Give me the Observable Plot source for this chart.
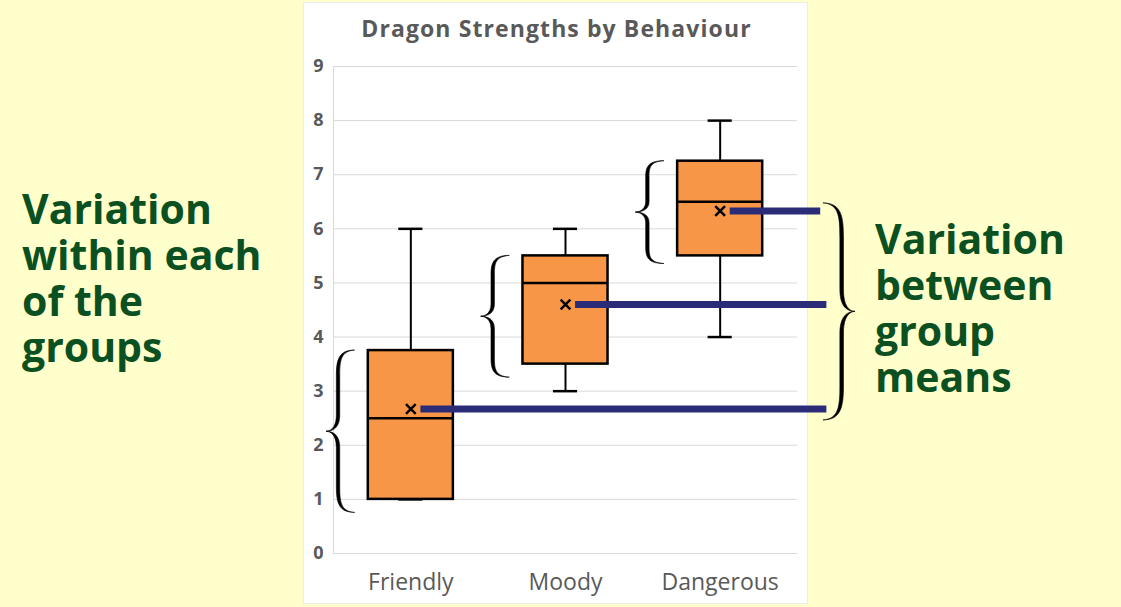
<!DOCTYPE html>
<html><head><meta charset="utf-8">
<script src="https://cdn.jsdelivr.net/npm/d3@7"></script>
<script src="https://cdn.jsdelivr.net/npm/@observablehq/plot@0.6"></script>
<style>
html,body{margin:0;padding:0;background:#FFFFCC;}
#wrap{position:relative;width:1121px;height:607px;overflow:hidden;background:#FFFFCC;font-family:"Open Sans",sans-serif;}
#panel{position:absolute;left:303px;top:2px;width:503px;height:600px;background:#fff;border:1px solid #ececec;}
#title{position:absolute;left:303px;top:13px;width:507px;text-align:center;font-weight:700;font-size:23px;letter-spacing:1.1px;line-height:30px;color:#595959;}
#chart{position:absolute;left:0;top:50px;}
.note{position:absolute;color:#0b5020;font-weight:700;font-size:41px;line-height:46px;white-space:nowrap;}
</style></head>
<body>
<div id="wrap">
  <div id="panel"></div>
  <div id="title">Dragon Strengths by Behaviour</div>
  <div id="chart"></div>
  <div class="note" style="left:22px;top:185px;">Variation<br>within each<br>of the<br>groups</div>
  <div class="note" style="left:875px;top:215px;">Variation<br>between<br>group<br>means</div>
</div>
<script>
const groups = ["Friendly", "Moody", "Dangerous"];
const mins = [1, 3, 4];
const q1s = [1, 3.5, 5.5];
const medians = [2.5, 5, 6.5];
const q3s = [3.75, 5.5, 7.25];
const maxs = [6, 6, 8];
const means = [2.67, 4.6, 6.33];
const yTicks = [0, 1, 2, 3, 4, 5, 6, 7, 8, 9];
const braceTops = [3.75, 5.5, 7.25];
const braceBottoms = [0.75, 3.25, 5.35];
const meansBraceRange = [2.46, 6.47];

// layout (positions in x data units)
const boxHalf = 0.275, capHalf = 0.078;
const lineEnd = [2.69, 2.69, 2.65];

const rows = groups.map((g, i) => ({
  i, g, min: mins[i], q1: q1s[i], med: medians[i], q3: q3s[i], max: maxs[i], mean: means[i]
}));

function bracePath(xt, xe, y1, y2, t) {
  const dir = Math.sign(xe - xt);
  const xs = xt + (xe - xt) * 0.36;
  const xi = xs + dir * t;
  const h = y2 - y1, ym = (y1 + y2) / 2, k = 0.16 * h, m = 0.1 * h;
  return `M${xe},${y1}C${xs + dir * 2},${y1} ${xs},${y1 + k * 0.4} ${xs},${y1 + k}L${xs},${ym - m}C${xs},${ym - 2} ${xt + dir * 3},${ym} ${xt},${ym}C${xt + dir * 3},${ym} ${xs},${ym + 2} ${xs},${ym + m}L${xs},${y2 - k}C${xs},${y2 - k * 0.4} ${xs + dir * 2},${y2} ${xe},${y2}` +
    `C${xi + dir * 1},${y2 - 1} ${xi},${y2 - k * 0.4} ${xi},${y2 - k}L${xi},${ym + m}C${xi},${ym + 1} ${xt + dir * 4},${ym} ${xt},${ym}C${xt + dir * 4},${ym} ${xi},${ym - 1} ${xi},${ym - m}L${xi},${y1 + k}C${xi},${y1 + k * 0.4} ${xi + dir * 1},${y1 + 1} ${xe},${y1}Z`;
}

const braces = (index, scales) => {
  const g = d3.create("svg:g");
  braceTops.forEach((top, i) => {
    g.append("path")
      .attr("d", bracePath(scales.x(i - 0.545), scales.x(i - 0.36), scales.y(top), scales.y(braceBottoms[i]), 3.4))
      .attr("fill", "black").attr("stroke", "black").attr("stroke-width", 0.6);
  });
  g.append("path")
    .attr("d", bracePath(scales.x(2.875), scales.x(2.668), scales.y(meansBraceRange[1]), scales.y(meansBraceRange[0]), 3.6))
    .attr("fill", "black").attr("stroke", "black").attr("stroke-width", 0.6);
  return g.node();
};

const plot = Plot.plot({
  width: 1121, height: 557,
  marginLeft: 333, marginRight: 324, marginTop: 16, marginBottom: 54,
  x: {domain: [-0.5, 2.5], axis: null},
  y: {domain: [0, 9], axis: null},
  style: {background: "transparent", fontFamily: "'Open Sans', sans-serif", overflow: "visible"},
  marks: [
    Plot.gridY(yTicks, {stroke: "#d9d9d9", strokeOpacity: 1}),
    Plot.ruleX([-0.5], {y1: 0, y2: 9, stroke: "#d9d9d9", strokeOpacity: 1}),
    Plot.axisY(yTicks, {tickSize: 0, tickPadding: 10, tickFormat: "d", fontSize: 18, fontWeight: "bold", color: "#595959"}),
    Plot.text(rows, {x: "i", y: 0, text: "g", dy: 36, lineAnchor: "bottom", fontSize: 23, fill: "#595959"}),
    Plot.ruleX(rows, {x: "i", y1: "min", y2: "q1", stroke: "black", strokeWidth: 2}),
    Plot.ruleX(rows, {x: "i", y1: "q3", y2: "max", stroke: "black", strokeWidth: 2}),
    Plot.ruleY(rows, {y: "min", x1: d => d.i - capHalf, x2: d => d.i + capHalf, stroke: "black", strokeWidth: 2.5}),
    Plot.ruleY(rows, {y: "max", x1: d => d.i - capHalf, x2: d => d.i + capHalf, stroke: "black", strokeWidth: 2.5}),
    Plot.rect(rows, {x1: d => d.i - boxHalf, x2: d => d.i + boxHalf, y1: "q1", y2: "q3", fill: "#F79646", stroke: "black", strokeWidth: 2.5}),
    Plot.ruleY(rows, {y: "med", x1: d => d.i - boxHalf, x2: d => d.i + boxHalf, stroke: "black", strokeWidth: 2.5}),
    Plot.ruleY(rows, {y: "mean", x1: d => d.i + 0.065, x2: d => lineEnd[d.i], stroke: "#2b2c78", strokeWidth: 7}),
    Plot.dot(rows, {x: "i", y: "mean", symbol: "times", r: 4.5, stroke: "black", strokeWidth: 2.5}),
    braces
  ]
});
document.getElementById("chart").appendChild(plot);
</script>
</body></html>
